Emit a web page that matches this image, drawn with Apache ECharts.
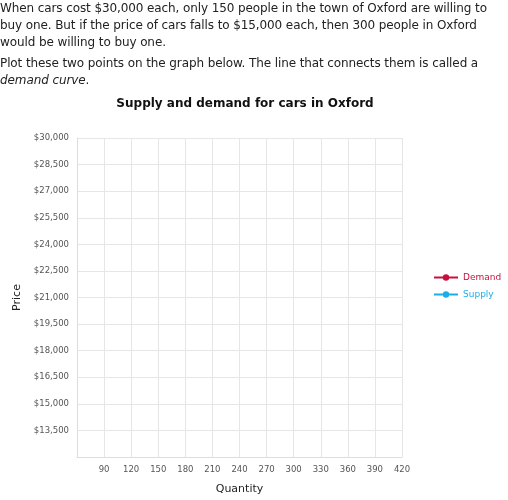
<!DOCTYPE html>
<html>
<head>
<meta charset="utf-8">
<script src="https://cdn.jsdelivr.net/npm/echarts@6/dist/echarts.min.js"></script>
<style>
  body { margin: 0; font-family: "DejaVu Sans", Verdana, sans-serif; }
  #intro { position: absolute; left: 0; top: 0; width: 506px; font-size: 12px; line-height: 17px; color: #222; z-index: 2; letter-spacing: -0.1px; }
  #intro p { margin: 0 0 4px 0; }
  #chart { position: absolute; left: 0; top: 0; width: 508px; height: 500px; }
</style>
</head>
<body>
<div id="intro">
  <p>When cars cost $30,000 each, only 150 people in the town of Oxford are willing to buy one. But if the price of cars falls to $15,000 each, then 300 people in Oxford would be willing to buy one.</p>
  <p>Plot these two points on the graph below. The line that connects them is called a <i>demand curve</i>.</p>
</div>
<div id="chart"></div>
<script>
  // axis ranges
  const xMin = 60, xMax = 420, xStep = 30
  const yMin = 12000, yMax = 30000, yStep = 1500
  // series (empty: the points are to be plotted by the reader)
  const seriesNames = ['Demand', 'Supply']
  const seriesColors = ['#c8103e', '#1aaee8']
  const demandData = []
  const supplyData = []

  const myChart = echarts.init(document.getElementById('chart'))
  myChart.setOption({
    textStyle: { fontFamily: 'DejaVu Sans' },
    title: {
      text: 'Supply and demand for cars in Oxford',
      left: 240, top: 93, textAlign: 'center',
      textStyle: { fontSize: 12, fontWeight: 'bold', color: '#111' }
    },
    legend: {
      orient: 'vertical', left: 428, top: 268, itemGap: 8,
      itemWidth: 24, itemHeight: 8,
      data: seriesNames.map((n, i) => ({ name: n, textStyle: { color: seriesColors[i], fontSize: 9 } }))
    },
    grid: { left: 77, right: 106, top: 138, bottom: 37 },
    xAxis: {
      type: 'value', min: xMin, max: xMax, interval: xStep,
      name: 'Quantity', nameLocation: 'middle', nameGap: 27,
      nameTextStyle: { fontSize: 11, color: '#222' },
      axisLine: { show: true, lineStyle: { color: '#ddd' } },
      axisTick: { show: false },
      axisLabel: { fontSize: 8.5, color: '#555', formatter: v => v === xMin ? '' : v },
      splitLine: { lineStyle: { color: '#e6e6e6' } }
    },
    yAxis: {
      type: 'value', min: yMin, max: yMax, interval: yStep,
      name: 'Price', nameLocation: 'middle', nameGap: 44,
      nameTextStyle: { fontSize: 11, color: '#222' },
      axisLine: { show: true, lineStyle: { color: '#ddd' } },
      axisTick: { show: false },
      axisLabel: { fontSize: 8.5, color: '#555', formatter: v => v === yMin ? '' : '$' + v.toLocaleString('en-US') },
      splitLine: { lineStyle: { color: '#e6e6e6' } }
    },
    series: [
      { name: seriesNames[0], type: 'line', data: demandData, color: seriesColors[0], symbol: 'circle' },
      { name: seriesNames[1], type: 'line', data: supplyData, color: seriesColors[1], symbol: 'circle' }
    ]
  })
</script>
</body>
</html>
